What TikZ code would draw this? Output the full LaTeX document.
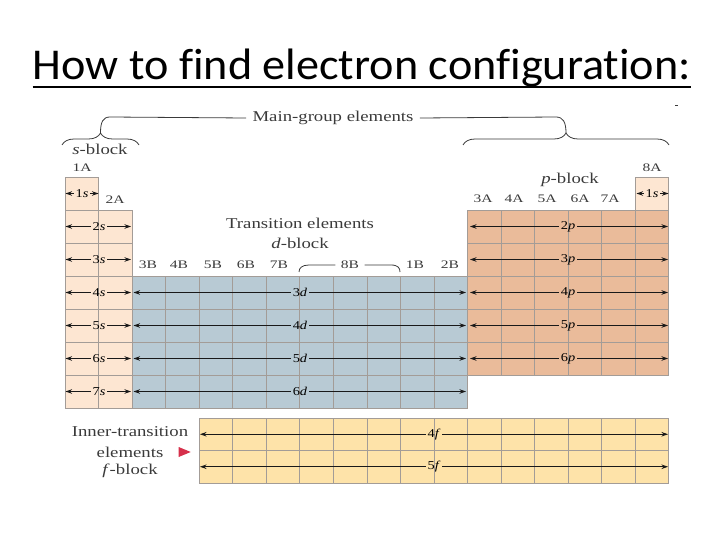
\documentclass[tikz,border=0pt]{standalone}
\usepackage{fontspec}
\setmainfont{Liberation Serif}
\newfontfamily\titlefont[RawFeature={-liga;-clig;-dlig}]{Carlito}
\usetikzlibrary{arrows.meta, shapes, positioning, decorations.pathreplacing}

\definecolor{sblock}{HTML}{FDE6D2}
\definecolor{dblock}{HTML}{B8CAD4}
\definecolor{pblock}{HTML}{EABB9A}
\definecolor{fblock}{HTML}{FEE3A9}
\definecolor{gridline}{HTML}{A39C97}
\definecolor{labeltext}{HTML}{3A3A3A}
\definecolor{marker}{HTML}{D6304B}

\begin{document}
\begin{tikzpicture}[x=1pt,y=-1pt,>={Stealth[length=6.5pt,width=4.5pt]},
 cell/.style={draw=gridline,line width=0.9pt},
 span/.style={->,line width=0.9pt,black!90},
 orbital/.style={inner sep=1.5pt,xscale=1.2,font=\fontsize{12}{12}\selectfont},
 group/.style={inner sep=0pt,xscale=1.35,text=labeltext,font=\fontsize{11.5}{12}\selectfont},
 heading/.style={inner sep=1pt,xscale=1.25,text=labeltext,font=\fontsize{15}{16}\selectfont},
 bracket/.style={line width=0.8pt,labeltext},
 marker tri/.style={isosceles triangle,fill=marker,inner sep=0pt,minimum height=11pt,minimum width=10pt}]

  \useasboundingbox (0,0) rectangle (720,540);
  \def\cw{33.55}
  \def\rh{33}

  \node[inner sep=0pt,anchor=base,xscale=1.05,font=\titlefont\fontsize{44}{44}\selectfont] (title) at (362,80) {How to find electron configuration:};
  \draw[line width=1.6pt] ([yshift=-7pt]title.base west) -- ([yshift=-7pt]title.base east);
  \draw[labeltext,line width=0.8pt] (675,105) -- (678,105);

  % blocks
  \foreach \r in {1,...,7}
   \draw[cell,fill=sblock] (65,{177+(\r-1)*\rh}) rectangle +(\cw,\rh);
  \foreach \r in {2,...,7}
   \draw[cell,fill=sblock] ({65+\cw},{177+(\r-1)*\rh}) rectangle +(\cw,\rh);
  \foreach \c in {3,...,12}
   \foreach \r in {4,...,7}
    \draw[cell,fill=dblock] ({65+(\c-1)*\cw},{177+(\r-1)*\rh}) rectangle +(\cw,\rh);
  \foreach \c in {13,...,18}
   \foreach \r in {2,...,6}
    \draw[cell,fill=pblock] ({65+(\c-1)*\cw},{177+(\r-1)*\rh}) rectangle +(\cw,\rh);
  \draw[cell,fill=sblock] ({65+17*\cw},177) rectangle +(\cw,\rh);
  \foreach \c in {5,...,18}
   \foreach \r in {1,2}
    \draw[cell,fill=fblock] ({65+(\c-1)*\cw},{418+(\r-1)*32.5}) rectangle +(\cw,32.5);

  % headings
  \node[heading,inner sep=5pt] (main) at (333,118) {Main-group elements};
  \node[heading] (sname) at (100,149) {\textit{s}-block};
  \node[heading] (pname) at (570,180) {\textit{p}-block};
  \node[heading] (trans) at (300,223) {Transition elements};
  \node[heading] (dname) at (300,243) {\textit{d}-block};
  \node[heading] (inner) at (130,432) {Inner-transition};
  \node[heading] (elem) at (130,452) {elements};
  \node[heading] (fname) at (130,471) {\textit{f}-block};
  \node[marker tri] (fmark) at (182,452) {};

  \draw[bracket,decorate,decoration={brace,amplitude=12pt}] (62,145) -- (139,145);
  \coordinate (stip) at (100.5,133);
  \draw[bracket] (main.west) -- (110,117) .. controls (103,117) and (100.5,122) .. (stip);
  \draw[bracket,decorate,decoration={brace,amplitude=12pt}] (463,145) -- (669,145);
  \coordinate (ptip) at (566,133);
  \draw[bracket] (main.east) -- (556,117) .. controls (563,117) and (566,122) .. (ptip);

  % group numbers
  \node[group] (grp1) at (82,168) {1A};
  \node[group] (grp2) at (115,200) {2A};
  \node[group] (grp8) at (652,168) {8A};
  \foreach \g/\x in {3/483,4/514,5/547,6/580,7/610}
   \node[group] (grp\g) at (\x,199) {\g A};
  \foreach \g/\x in {3/148,4/179,5/213,6/246,7/279,1/415,2/450}
   \node[group] (sub\g) at (\x,265) {\g B};
  \node[group,inner sep=4pt] (sub8) at (350,265) {8B};
  \draw[bracket] (sub8.west) -- (309,265) .. controls (302,265) and (299,268) .. (299,272);
  \draw[bracket] (sub8.east) -- (391,265) .. controls (398,265) and (400,268) .. (400,272);

  % orbital arrows
  \node[orbital] (s1) at (82,193.5) {1\textit{s}};
  \coordinate (sl1) at (65.5,193.5);
  \coordinate (sr1) at (98.5,193.5);
  \path (s1) edge[span] (sl1) edge[span] (sr1);
  \node[orbital] (h1) at (652,193.5) {1\textit{s}};
  \coordinate (hl1) at (636.5,193.5);
  \coordinate (hr1) at (668.5,193.5);
  \path (h1) edge[span] (hl1) edge[span] (hr1);

  \foreach \r in {2,...,7} {
   \node[orbital] (s\r) at (99,{177+(\r-0.5)*\rh}) {\r\textit{s}};
   \coordinate (sl\r) at (65.5,{177+(\r-0.5)*\rh});
   \coordinate (sr\r) at (131,{177+(\r-0.5)*\rh});
   \path (s\r) edge[span] (sl\r) edge[span] (sr\r);}

  \foreach \r/\n in {4/3,5/4,6/5,7/6} {
   \node[orbital] (d\n) at (300,{177+(\r-0.5)*\rh}) {\n\textit{d}};
   \coordinate (dl\n) at (133.5,{177+(\r-0.5)*\rh});
   \coordinate (dr\n) at (466,{177+(\r-0.5)*\rh});
   \path (d\n) edge[span] (dl\n) edge[span] (dr\n);}

  \foreach \r in {2,...,6} {
   \node[orbital] (p\r) at (568,{177+(\r-0.5)*\rh}) {\r\textit{p}};
   \coordinate (pl\r) at (470,{177+(\r-0.5)*\rh});
   \coordinate (pr\r) at (668,{177+(\r-0.5)*\rh});
   \path (p\r) edge[span] (pl\r) edge[span] (pr\r);}

  \foreach \r/\n in {1/4,2/5} {
   \node[orbital] (f\n) at (434,{418+(\r-0.5)*32.5}) {\n\textit{f}};
   \coordinate (fl\n) at (200,{418+(\r-0.5)*32.5});
   \coordinate (fr\n) at (668,{418+(\r-0.5)*32.5});
   \path (f\n) edge[span] (fl\n) edge[span] (fr\n);}

\end{tikzpicture}
\end{document}
